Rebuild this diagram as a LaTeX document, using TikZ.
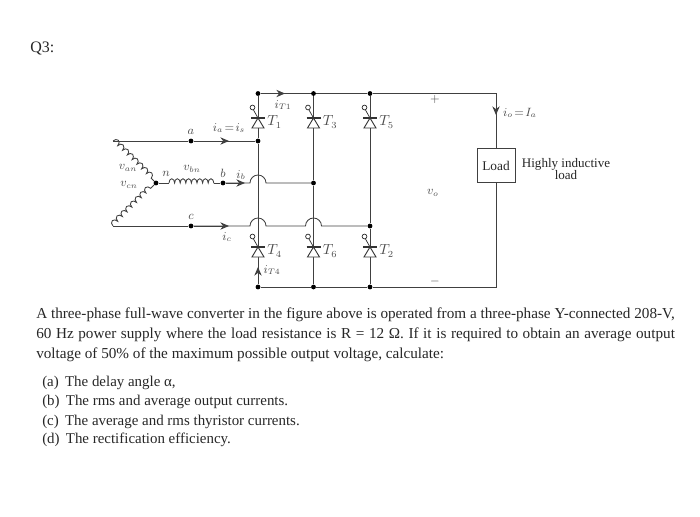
\documentclass[tikz,border=0pt]{standalone}
\usepackage{fontspec}
\setmainfont{Liberation Serif}
\usetikzlibrary{arrows.meta, positioning, decorations.pathmorphing}
\tikzset{
  wire/.style={draw=black!75, line width=0.65pt},
  dotn/.style={circle, fill=black, inner sep=0pt, minimum size=3.6pt},
  coilw/.style={wire, decorate, decoration={bumps, segment length=#1, amplitude=3.2pt}},
  flow/.style={-{Stealth[length=6.5pt,width=5.5pt]}, wire},
  lab/.style={font=\fontsize{9.2}{10}\selectfont, text=black!70, inner sep=0pt},
  para/.style={font=\fontsize{11.4}{13}\selectfont, text=black!85, anchor=base west, inner sep=0pt},
  item/.style={para, font=\fontsize{11.2}{13}\selectfont},
  thyr/.pic={
    \draw[black!80, line width=0.65pt, fill=white] (0,0) -- (-6,10) -- (6,10) -- cycle;
    \draw[black!80, line width=0.8pt] (-7,0) -- (7,0);
    \draw[black!80, line width=0.55pt] (0,0) -- (-4.5,-8);
    \draw[black!80, line width=0.55pt, fill=white] (-5.5,-10.5) circle (2.4);
  }
}
\begin{document}
\begin{tikzpicture}[x=0.75pt, y=-0.75pt]
\useasboundingbox (0,0) rectangle (700,517);

% Nodes
\coordinate (Aend) at (113,141);
\coordinate (Cend) at (113,226);
\node[dotn] (n) at (156,183) {};
\coordinate (nr) at (169,183);
\coordinate (bl) at (214,183);
\node[dotn] (a) at (191,141) {};
\node[dotn] (b) at (223,183) {};
\node[dotn] (c) at (191,226) {};

\node[dotn] (topA) at (258,93.5) {};
\node[dotn] (topB) at (313.5,93.5) {};
\node[dotn] (topC) at (370,93.5) {};
\coordinate (topR) at (496,93.5);
\node[dotn] (botL) at (258,287) {};
\node[dotn] (botB) at (313.5,287) {};
\node[dotn] (botC) at (370,287) {};
\coordinate (botR) at (496,287);
\node[dotn] (ja) at (258,141) {};
\node[dotn] (jb) at (313.5,183) {};
\node[dotn] (jc) at (370,226) {};
\node[draw=black!75, line width=0.65pt, minimum width=28.5pt, minimum height=26pt, inner sep=0pt, font=\fontsize{10}{11}\selectfont, text=black!85] (load) at (496,165.5) {Load};

% Source
\draw[coilw=10pt] (Aend) -- (n);
\draw[coilw=10pt] (Cend) -- (n);
\draw[coilw=8.4pt] (nr) -- (bl);
\draw[wire] (n) -- (nr) (bl) -- (b);
\draw[wire] (Aend) -- (a) -- (ja);
\draw[wire] (Cend) -- (c);

% Lines with hops
\draw[wire] (b) -- (250,183) arc[start angle=180, end angle=360, radius=8] -- (jb);
\draw[wire] (c) -- (250,226) arc[start angle=180, end angle=360, radius=8]
  -- (305.5,226) arc[start angle=180, end angle=360, radius=8] -- (jc);

% Bridge
\draw[wire] (topA) -- (topB) -- (topC) -- (topR) -- (load);
\draw[wire] (load) -- (botR) -- (botC) -- (botB) -- (botL);
\draw[wire] (topA) -- (ja) -- (botL);
\draw[wire] (topB) -- (jb) -- (botB);
\draw[wire] (topC) -- (jc) -- (botC);

\foreach \xx/\yy/\nam in {258/118/T_1, 313.5/118/T_3, 370/118/T_5, 258/247/T_4, 313.5/247/T_6, 370/247/T_2}{
  \pic at (\xx,\yy) {thyr};
  \node[lab, font=\fontsize{10.5}{11}\selectfont, anchor=west] at (\xx+9,\yy+4) {$\nam$};
}

% Arrow
\coordinate (ara) at (229,141);
\coordinate (arb) at (245,183);
\coordinate (arc) at (229,226);
\coordinate (art) at (285,93.5);
\coordinate (ar4) at (258,267);
\coordinate (aro) at (496,115);
\draw[flow] (a) -- (ara);
\draw[flow] (b) -- (arb);
\draw[flow] (c) -- (arc);
\draw[flow] (topA) -- (art);
\draw[flow] (botL) -- (ar4);
\draw[flow] (topR) -- (aro);

% Label
\node[lab] at (191,132) {$a$};
\node[lab] at (223,173) {$b$};
\node[lab] at (191,217) {$c$};
\node[lab] at (166,174) {$n$};
\node[lab] at (128,168) {$v_{an}$};
\node[lab] at (129,185) {$v_{cn}$};
\node[lab] at (192,169) {$v_{bn}$};
\node[lab] at (229,128) {$i_a\!=\!i_s$};
\node[lab] at (241,175) {$i_b$};
\node[lab] at (227,237) {$i_c$};
\node[lab] at (283,105) {$i_{T1}$};
\node[lab] at (272,270) {$i_{T4}$};
\node[lab] at (520,113) {$i_o\!=\!I_a$};
\node[lab] at (433,193) {$v_o$};
\node[lab] at (435,100) {$+$};
\node[lab] at (435,281) {$-$};
\node[font=\fontsize{9.8}{9.2}\selectfont, text=black!85, align=center, inner sep=0pt] (hil) at (566,169) {Highly inductive\\load};

\node[para, font=\fontsize{12}{13}\selectfont] (q3) at (30,53) {Q3:};
\node[para] (p1) at (36,318) {\makebox[479pt][s]{A three-phase full-wave converter in the figure above is operated from a three-phase Y-connected 208-V,}};
\node[para] (p2) at (36,338) {\makebox[479pt][s]{60 Hz power supply where the load resistance is R = 12 Ω. If it is required to obtain an average output}};
\node[para] (p3) at (36,358) {voltage of 50\% of the maximum possible output voltage, calculate:};
\node[item] (qa) at (42,386) {(a)\, The delay angle α,};
\node[item] (qb) at (42,405) {(b)\, The rms and average output currents.};
\node[item] (qc) at (42,425) {(c)\, The average and rms thyristor currents.};
\node[item] (qd) at (42,443) {(d)\, The rectification efficiency.};
\end{tikzpicture}
\end{document}
